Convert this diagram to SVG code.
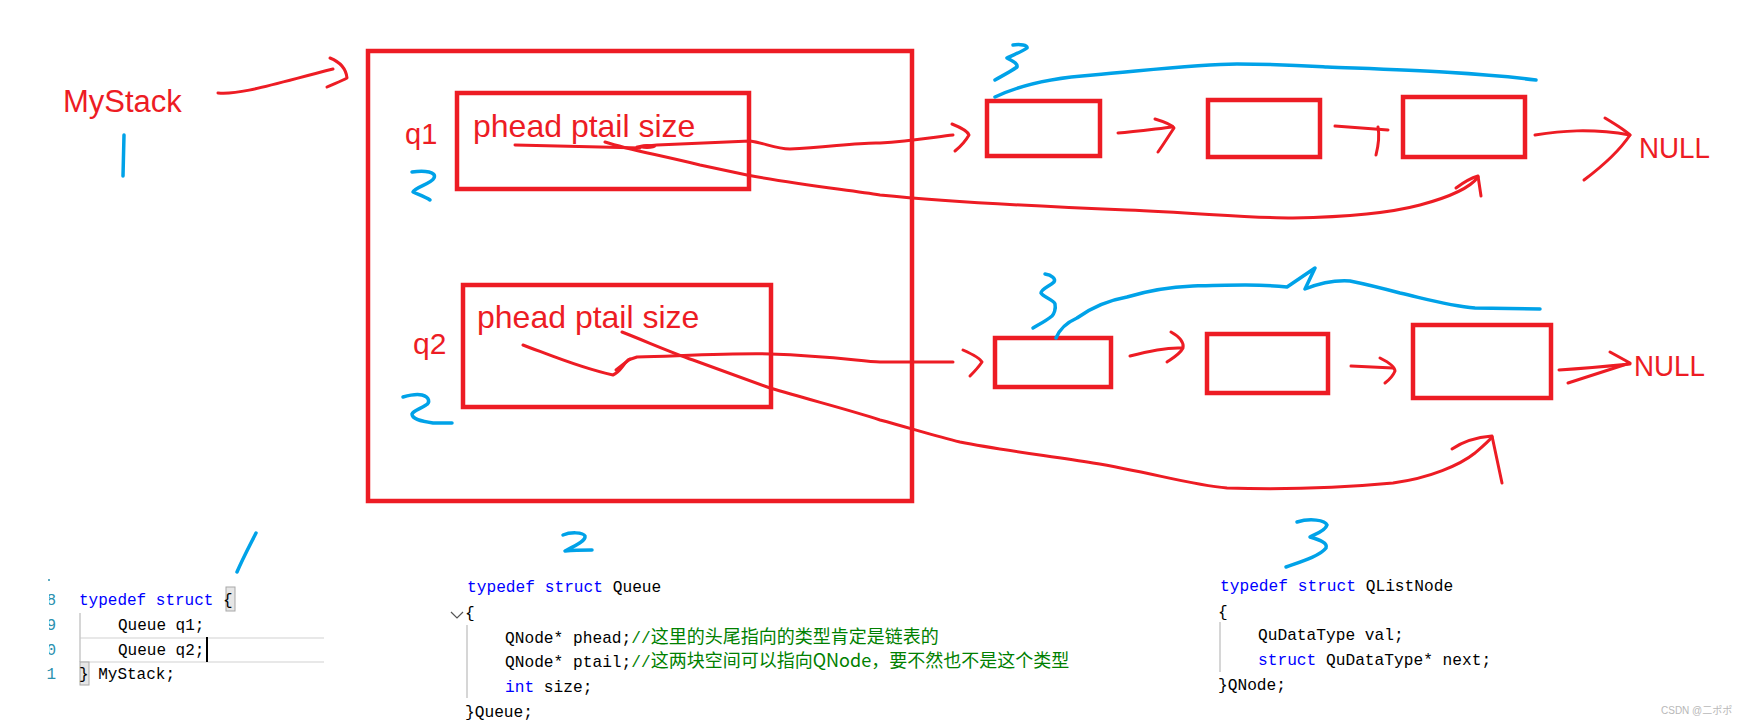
<svg xmlns="http://www.w3.org/2000/svg" width="1737" height="724" viewBox="0 0 1737 724">
<style>
.box{fill:none;stroke:#ED1C24;stroke-width:4.5}
.red{fill:none;stroke:#ED1C24;stroke-width:3;stroke-linecap:round;stroke-linejoin:round}
.blue{fill:none;stroke:#00A2E8;stroke-width:3.5;stroke-linecap:round;stroke-linejoin:round}
.lbl{fill:#ED1C24;font-family:"Liberation Sans","Noto Sans",sans-serif}
.code{font-family:"Liberation Mono","DejaVu Sans Mono","Noto Sans CJK SC",monospace;font-size:16px;fill:#000}
.c2{font-size:16.2px}
.kw{fill:#0000FF}
.cm{fill:#008000}
.cjk{font-family:"Noto Sans CJK SC",sans-serif;font-size:18px}
.ln{fill:#2B91AF}
.guide{stroke:#c8c8c8;stroke-width:1.5}
</style>
<defs>
<clipPath id="lnclip"><rect x="49" y="580" width="20" height="120"/></clipPath>
</defs>
<rect width="1737" height="724" fill="#fff"/>

<g id="mystack">
<text class="lbl" x="63" y="112" font-size="31">MyStack</text>
</g>

<g id="queue-struct">
<rect class="box" x="368" y="51" width="544" height="450"/>
</g>

<g id="q1">
<text class="lbl" x="405" y="144" font-size="29">q1</text>
<rect class="box" x="457" y="93" width="292" height="96"/>
<text class="lbl" x="473" y="137" font-size="32">phead ptail size</text>
</g>

<g id="q2">
<text class="lbl" x="413" y="354" font-size="30">q2</text>
<rect class="box" x="463" y="285" width="308" height="122"/>
<text class="lbl" x="477" y="328" font-size="32">phead ptail size</text>
</g>

<g id="list1-node1"><rect class="box" x="987" y="101" width="113" height="55"/></g>
<g id="list1-node2"><rect class="box" x="1208" y="100" width="112" height="57"/></g>
<g id="list1-node3"><rect class="box" x="1403" y="97" width="122" height="60"/></g>
<g id="list1-null"><text class="lbl" x="1639" y="158" font-size="29" textLength="71" lengthAdjust="spacingAndGlyphs">NULL</text></g>

<g id="list2-node1"><rect class="box" x="995" y="338" width="116" height="49"/></g>
<g id="list2-node2"><rect class="box" x="1207" y="334" width="121" height="59"/></g>
<g id="list2-node3"><rect class="box" x="1413" y="325" width="138" height="73"/></g>
<g id="list2-null"><text class="lbl" x="1634" y="376" font-size="29" textLength="71" lengthAdjust="spacingAndGlyphs">NULL</text></g>

<g id="connectors">
<path class="red" d="M218,93 C240,95 270,85 333,69"/>
<path class="red" d="M330,58 C340,62 346,68 347,78 C340,82 333,84 327,87"/>
<path class="red" d="M515,145 L600,147 L640,148 M637,147 L657,145 L750,141 C765,143 775,149 790,149 C830,147 860,142 880,143 C910,141 935,137 953,135"/>
<ellipse cx="647" cy="146.5" rx="9" ry="2.5" fill="#ED1C24"/>
<path class="red" d="M952,124 C962,128 968,132 969,135 C965,142 960,147 955,151"/>
<path class="red" d="M605,142 C630,150 650,153 700,165 L747,175 C800,185 850,190 880,195 C930,200 1000,205 1127,210 C1200,213 1250,218 1293,218 C1350,217 1390,213 1420,205 C1450,197 1470,188 1478,177"/>
<path class="red" d="M1456,188 C1464,182 1471,178 1478,176 L1481,196"/>
<path class="red" d="M1118,133 C1135,132 1155,129 1173,127"/>
<path class="red" d="M1155,119 C1165,122 1172,125 1174,128 C1168,137 1163,145 1158,152"/>
<path class="red" d="M1335,126 L1388,130"/>
<path class="red" d="M1378,127 C1380,138 1378,147 1376,155"/>
<path class="red" d="M1535,135 C1560,131 1590,128 1630,135"/>
<path class="red" d="M1605,118 C1615,124 1625,130 1630,135 C1620,150 1600,168 1584,180"/>
<path class="red" d="M523,345 C550,355 580,368 613,375 C620,372 622,366 628,360 L637,357 C700,355 740,353 770,354 C830,356 860,361 880,362 L953,362"/>
<path class="red" d="M616,370 L630,359" stroke-width="5"/>
<path class="red" d="M963,350 C972,354 980,358 982,362 C978,368 974,372 970,376"/>
<path class="red" d="M622,332 C650,343 670,352 693,360 L770,388 C810,400 850,410 880,420 C910,428 935,436 960,442 C1000,450 1050,456 1093,463 C1150,472 1190,485 1227,488 C1290,490 1350,487 1393,483 C1430,478 1460,465 1475,453 C1482,447 1488,442 1492,437"/>
<path class="red" d="M1452,449 C1465,440 1480,437 1492,436 L1502,483"/>
<path class="red" d="M1130,356 C1145,352 1165,347 1182,348"/>
<path class="red" d="M1171,332 C1180,337 1184,343 1183,348 C1180,354 1173,358 1167,362"/>
<path class="red" d="M1351,366 L1393,368"/>
<path class="red" d="M1380,358 C1388,362 1395,367 1395,371 C1393,376 1389,380 1385,383"/>
<path class="red" d="M1559,370 C1590,368 1610,366 1630,364"/>
<path class="red" d="M1610,352 L1630,363 L1568,383"/>
</g>

<g id="annotations">
<path class="blue" d="M124,135 L123,176"/>
<path class="blue" d="M412,172 C425,170 437,172 434,178 C431,184 415,187 413,192 C420,195 426,197 430,200"/>
<path class="blue" d="M403,397 C410,395 418,394 422,395 C430,397 430,403 426,405 C420,409 413,411 412,414 C412,419 420,421 433,423 L452,423"/>
<path class="blue" d="M1013,45 C1020,44 1028,45 1027,48 C1022,52 1012,55 1007,58 C1012,61 1018,63 1017,67 C1010,72 1000,77 995,80"/>
<path class="blue" d="M995,97 C1020,85 1050,78 1093,75 C1150,70 1200,64 1237,64 C1280,64 1310,66 1327,67 C1400,70 1470,72 1536,80"/>
<path class="blue" d="M1045,274 C1052,275 1056,279 1054,282 C1050,286 1041,289 1041,293 C1043,297 1054,300 1055,304 C1056,309 1054,314 1052,316 C1046,321 1038,325 1033,328"/>
<path class="blue" d="M1056,338 C1060,328 1068,322 1077,318 C1095,305 1110,300 1127,297 C1150,290 1170,287 1193,286 C1230,285 1260,284 1287,287 L1315,268 L1305,289 C1320,283 1335,280 1350,281 C1370,285 1385,289 1400,293 C1430,300 1450,306 1475,308 L1540,309"/>
<path class="blue" d="M256,533 C250,545 243,558 237,572" stroke-width="4"/>
<path class="blue" d="M563,535 C570,532 583,532 585,536 C586,541 575,546 565,551 C575,550 585,550 592,550" stroke-width="4"/>
<path class="blue" d="M1297,522 C1310,518 1325,520 1327,525 C1325,532 1312,535 1310,537 C1320,540 1328,543 1326,548 C1320,556 1300,562 1286,567" stroke-width="4"/>
</g>

<g id="code-mystack">
<circle cx="49" cy="580" r="1" fill="#2B91AF"/>
<line x1="80" y1="638" x2="324" y2="638" stroke="#e8e8e8" stroke-width="2"/>
<line x1="80" y1="662" x2="324" y2="662" stroke="#e8e8e8" stroke-width="2"/>
<line class="guide" x1="80" y1="613" x2="80" y2="662"/>
<rect x="226" y="587" width="9" height="24" fill="#e6e6e6" stroke="#a8a8a8" stroke-width="1"/>
<rect x="80" y="662" width="9" height="23" fill="#e6e6e6" stroke="#a8a8a8" stroke-width="1"/>
<g clip-path="url(#lnclip)">
<text class="code ln" x="46.5" y="605">8</text>
<text class="code ln" x="46.5" y="630">9</text>
<text class="code ln" x="46.5" y="655">0</text>
</g>
<text class="code ln" x="46.5" y="679">1</text>
<text class="code" x="79" y="605"><tspan class="kw">typedef struct</tspan> {</text>
<text class="code" x="118" y="630">Queue q1;</text>
<text class="code" x="118" y="655">Queue q2;</text>
<line x1="207" y1="637" x2="207" y2="662" stroke="#000" stroke-width="2"/>
<text class="code" x="79" y="679">} MyStack;</text>
</g>

<g id="code-queue">
<path d="M451,612 L457,618 L463,612" fill="none" stroke="#555" stroke-width="1.2"/>
<line class="guide" x1="467" y1="625" x2="467" y2="698"/>
<text class="code c2" x="467" y="592"><tspan class="kw">typedef struct</tspan> Queue</text>
<text class="code c2" x="465" y="618">{</text>
<text class="code c2" x="505" y="643">QNode* phead;<tspan class="cm">//</tspan><tspan class="cm cjk">这里的头尾指向的类型肯定是链表的</tspan></text>
<text class="code c2" x="505" y="667">QNode* ptail;<tspan class="cm">//</tspan><tspan class="cm cjk">这两块空间可以指向QNode，要不然也不是这个类型</tspan></text>
<text class="code c2" x="505" y="692"><tspan class="kw">int</tspan> size;</text>
<text class="code c2" x="465" y="717">}Queue;</text>
</g>

<g id="code-qnode">
<line class="guide" x1="1220" y1="622" x2="1220" y2="672"/>
<text class="code c2" x="1220" y="591"><tspan class="kw">typedef struct</tspan> QListNode</text>
<text class="code c2" x="1218" y="617">{</text>
<text class="code c2" x="1258" y="640">QuDataType val;</text>
<text class="code c2" x="1258" y="665"><tspan class="kw">struct</tspan> QuDataType* next;</text>
<text class="code c2" x="1218" y="690">}QNode;</text>
</g>

<g id="watermark">
<text x="1661" y="714" font-family="'Liberation Sans','Noto Sans CJK SC',sans-serif" font-size="10" fill="#b8b8b8">CSDN @二ポポ</text>
</g>
</svg>
